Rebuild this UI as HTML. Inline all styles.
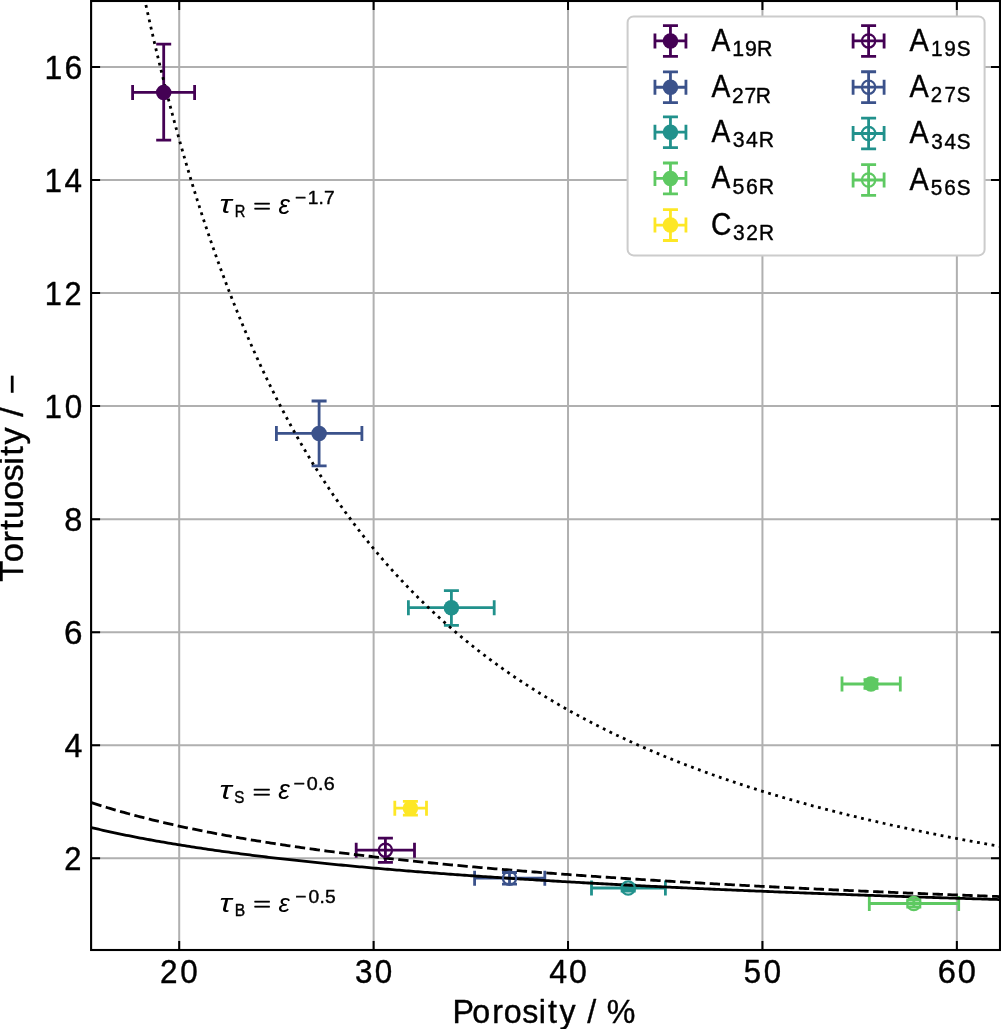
<!DOCTYPE html><html><head><meta charset="utf-8"><style>html,body{margin:0;padding:0;background:#fff;}body{width:1001px;height:1029px;overflow:hidden;position:relative;font-family:"Liberation Sans",sans-serif;}</style></head><body><div style="position:absolute;left:0;top:0;width:1001px;height:1029px;will-change:transform"><svg width="1001" height="1029" viewBox="0 0 1001 1029" style="position:absolute;left:0;top:0">
<rect width="1001" height="1029" fill="#fff"/>
<defs><clipPath id="ax"><rect x="91.1" y="1.0" width="908.9" height="949.0"/></clipPath></defs>
<path d="M179.20 1.0V950.0M373.62 1.0V950.0M568.03 1.0V950.0M762.44 1.0V950.0M956.86 1.0V950.0M91.1 858.18H1000.0M91.1 745.17H1000.0M91.1 632.15H1000.0M91.1 519.14H1000.0M91.1 406.12H1000.0M91.1 293.10H1000.0M91.1 180.09H1000.0M91.1 67.07H1000.0" stroke="#b0b0b0" stroke-width="2" fill="none"/>
<g clip-path="url(#ax)">
<path d="M132.60 92.40H194.60M163.70 44.20V140.20M132.60 84.90V99.90M194.60 84.90V99.90M156.20 44.20H171.20M156.20 140.20H171.20" stroke="#440154" stroke-width="2.8" fill="none"/>
<path d="M276.40 433.40H361.90M319.10 401.00V465.80M276.40 425.90V440.90M361.90 425.90V440.90M311.60 401.00H326.60M311.60 465.80H326.60" stroke="#3b528b" stroke-width="2.8" fill="none"/>
<path d="M408.40 607.70H494.20M451.40 590.70V625.30M408.40 600.20V615.20M494.20 600.20V615.20M443.90 590.70H458.90M443.90 625.30H458.90" stroke="#21918c" stroke-width="2.8" fill="none"/>
<path d="M842.00 684.00H900.30M871.00 679.70V688.30M842.00 676.50V691.50M900.30 676.50V691.50M863.50 679.70H878.50M863.50 688.30H878.50" stroke="#5ec962" stroke-width="2.8" fill="none"/>
<path d="M394.80 808.20H426.50M410.40 801.40V815.20M394.80 800.70V815.70M426.50 800.70V815.70M402.90 801.40H417.90M402.90 815.20H417.90" stroke="#fde725" stroke-width="2.8" fill="none"/>
<path d="M356.20 850.20H414.50M385.40 838.20V862.40M356.20 842.70V857.70M414.50 842.70V857.70M377.90 838.20H392.90M377.90 862.40H392.90" stroke="#440154" stroke-width="2.8" fill="none"/>
<path d="M474.60 878.20H544.80M509.50 872.50V884.20M474.60 870.70V885.70M544.80 870.70V885.70M502.00 872.50H517.00M502.00 884.20H517.00" stroke="#3b528b" stroke-width="2.8" fill="none"/>
<path d="M591.50 888.00H665.40M628.20 885.00V891.00M591.50 880.50V895.50M665.40 880.50V895.50M620.70 885.00H635.70M620.70 891.00H635.70" stroke="#21918c" stroke-width="2.8" fill="none"/>
<path d="M869.30 903.50H958.70M913.80 900.00V907.00M869.30 896.00V911.00M958.70 896.00V911.00M906.30 900.00H921.30M906.30 907.00H921.30" stroke="#5ec962" stroke-width="2.8" fill="none"/>
<path d="M120.88 -120.32L123.11 -108.09L125.35 -96.08L127.58 -84.28L129.82 -72.69L132.05 -61.30L134.29 -50.11L136.53 -39.11L138.76 -28.30L141.00 -17.67L143.23 -7.22L145.47 3.05L147.70 13.15L149.94 23.08L152.18 32.85L154.41 42.46L156.65 51.92L158.88 61.22L161.12 70.37L163.36 79.37L165.59 88.23L167.83 96.96L170.06 105.54L172.30 113.99L174.53 122.31L176.77 130.50L179.01 138.57L181.24 146.51L183.48 154.34L185.71 162.04L187.95 169.63L190.18 177.11L192.42 184.47L194.66 191.73L196.89 198.88L199.13 205.92L201.36 212.87L203.60 219.71L205.83 226.46L208.07 233.11L210.31 239.66L212.54 246.12L214.78 252.49L217.01 258.78L219.25 264.97L221.49 271.08L223.72 277.11L225.96 283.05L228.19 288.91L230.43 294.69L232.66 300.40L234.90 306.03L237.14 311.58L239.37 317.06L241.61 322.47L243.84 327.80L246.08 333.07L248.31 338.27L250.55 343.40L252.79 348.46L255.02 353.46L257.26 358.39L259.49 363.27L261.73 368.08L263.96 372.83L266.20 377.52L268.44 382.15L270.67 386.72L272.91 391.24L275.14 395.71L277.38 400.11L279.62 404.47L281.85 408.77L284.09 413.02L286.32 417.22L288.56 421.36L290.79 425.46L293.03 429.51L295.27 433.52L297.50 437.47L299.74 441.38L301.97 445.24L304.21 449.06L306.44 452.84L308.68 456.57L310.92 460.26L313.15 463.90L315.39 467.51L317.62 471.07L319.86 474.59L322.10 478.08L324.33 481.52L326.57 484.93L328.80 488.30L331.04 491.63L333.27 494.93L335.51 498.19L337.75 501.41L339.98 504.60L342.22 507.75L344.45 510.88L346.69 513.96L348.92 517.02L351.16 520.04L353.40 523.03L355.63 525.99L357.87 528.91L360.10 531.81L362.34 534.68L364.57 537.51L366.81 540.32L369.05 543.10L371.28 545.85L373.52 548.57L375.75 551.26L377.99 553.93L380.23 556.57L382.46 559.18L384.70 561.77L386.93 564.33L389.17 566.86L391.40 569.37L393.64 571.86L395.88 574.32L398.11 576.76L400.35 579.17L402.58 581.56L404.82 583.93L407.05 586.27L409.29 588.59L411.53 590.89L413.76 593.17L416.00 595.42L418.23 597.65L420.47 599.87L422.70 602.06L424.94 604.23L427.18 606.38L429.41 608.51L431.65 610.62L433.88 612.71L436.12 614.78L438.36 616.83L440.59 618.87L442.83 620.88L445.06 622.88L447.30 624.86L449.53 626.82L451.77 628.76L454.01 630.69L456.24 632.60L458.48 634.49L460.71 636.36L462.95 638.22L465.18 640.06L467.42 641.89L469.66 643.70L471.89 645.49L474.13 647.27L476.36 649.03L478.60 650.78L480.83 652.51L483.07 654.22L485.31 655.93L487.54 657.61L489.78 659.29L492.01 660.95L494.25 662.59L496.49 664.22L498.72 665.84L500.96 667.44L503.19 669.03L505.43 670.61L507.66 672.18L509.90 673.73L512.14 675.26L514.37 676.79L516.61 678.30L518.84 679.80L521.08 681.29L523.31 682.77L525.55 684.23L527.79 685.68L530.02 687.13L532.26 688.55L534.49 689.97L536.73 691.38L538.96 692.77L541.20 694.16L543.44 695.53L545.67 696.89L547.91 698.24L550.14 699.58L552.38 700.92L554.62 702.24L556.85 703.54L559.09 704.84L561.32 706.13L563.56 707.41L565.79 708.68L568.03 709.94L570.27 711.19L572.50 712.43L574.74 713.67L576.97 714.89L579.21 716.10L581.44 717.30L583.68 718.50L585.92 719.68L588.15 720.86L590.39 722.03L592.62 723.19L594.86 724.34L597.10 725.48L599.33 726.61L601.57 727.74L603.80 728.86L606.04 729.97L608.27 731.07L610.51 732.16L612.75 733.24L614.98 734.32L617.22 735.39L619.45 736.45L621.69 737.51L623.92 738.55L626.16 739.59L628.40 740.62L630.63 741.65L632.87 742.67L635.10 743.68L637.34 744.68L639.57 745.67L641.81 746.66L644.05 747.64L646.28 748.62L648.52 749.59L650.75 750.55L652.99 751.50L655.23 752.45L657.46 753.39L659.70 754.33L661.93 755.26L664.17 756.18L666.40 757.10L668.64 758.01L670.88 758.91L673.11 759.81L675.35 760.70L677.58 761.58L679.82 762.46L682.05 763.34L684.29 764.21L686.53 765.07L688.76 765.92L691.00 766.78L693.23 767.62L695.47 768.46L697.70 769.29L699.94 770.12L702.18 770.95L704.41 771.76L706.65 772.58L708.88 773.38L711.12 774.19L713.36 774.98L715.59 775.77L717.83 776.56L720.06 777.34L722.30 778.12L724.53 778.89L726.77 779.66L729.01 780.42L731.24 781.18L733.48 781.93L735.71 782.68L737.95 783.42L740.18 784.16L742.42 784.89L744.66 785.62L746.89 786.34L749.13 787.06L751.36 787.78L753.60 788.49L755.83 789.20L758.07 789.90L760.31 790.60L762.54 791.29L764.78 791.98L767.01 792.66L769.25 793.34L771.49 794.02L773.72 794.69L775.96 795.36L778.19 796.03L780.43 796.69L782.66 797.34L784.90 798.00L787.14 798.64L789.37 799.29L791.61 799.93L793.84 800.57L796.08 801.20L798.31 801.83L800.55 802.46L802.79 803.08L805.02 803.70L807.26 804.31L809.49 804.92L811.73 805.53L813.96 806.14L816.20 806.74L818.44 807.33L820.67 807.93L822.91 808.52L825.14 809.10L827.38 809.69L829.62 810.27L831.85 810.85L834.09 811.42L836.32 811.99L838.56 812.56L840.79 813.12L843.03 813.68L845.27 814.24L847.50 814.79L849.74 815.34L851.97 815.89L854.21 816.44L856.44 816.98L858.68 817.52L860.92 818.05L863.15 818.59L865.39 819.12L867.62 819.64L869.86 820.17L872.10 820.69L874.33 821.21L876.57 821.72L878.80 822.24L881.04 822.75L883.27 823.25L885.51 823.76L887.75 824.26L889.98 824.76L892.22 825.25L894.45 825.75L896.69 826.24L898.92 826.73L901.16 827.21L903.40 827.69L905.63 828.18L907.87 828.65L910.10 829.13L912.34 829.60L914.57 830.07L916.81 830.54L919.05 831.00L921.28 831.47L923.52 831.93L925.75 832.39L927.99 832.84L930.23 833.29L932.46 833.75L934.70 834.19L936.93 834.64L939.17 835.08L941.40 835.53L943.64 835.96L945.88 836.40L948.11 836.84L950.35 837.27L952.58 837.70L954.82 838.13L957.05 838.55L959.29 838.98L961.53 839.40L963.76 839.82L966.00 840.23L968.23 840.65L970.47 841.06L972.70 841.47L974.94 841.88L977.18 842.29L979.41 842.69L981.65 843.10L983.88 843.50L986.12 843.90L988.36 844.29L990.59 844.69L992.83 845.08L995.06 845.47L997.30 845.86L999.53 846.25L1001.77 846.63L1004.01 847.02L1006.24 847.40L1008.48 847.78L1010.71 848.15L1012.95 848.53L1015.18 848.90" stroke="#000" stroke-width="2.8" fill="none" stroke-dasharray="2.8 4.603" stroke-dashoffset="-2"/>
<path d="M81.99 799.44L84.33 800.24L86.66 801.03L88.99 801.81L91.32 802.58L93.66 803.34L95.99 804.10L98.32 804.84L100.66 805.57L102.99 806.30L105.32 807.01L107.66 807.72L109.99 808.42L112.32 809.12L114.65 809.80L116.99 810.48L119.32 811.15L121.65 811.81L123.99 812.46L126.32 813.11L128.65 813.75L130.99 814.38L133.32 815.01L135.65 815.63L137.98 816.24L140.32 816.85L142.65 817.45L144.98 818.04L147.32 818.63L149.65 819.21L151.98 819.78L154.31 820.35L156.65 820.92L158.98 821.47L161.31 822.03L163.65 822.57L165.98 823.12L168.31 823.65L170.65 824.18L172.98 824.71L175.31 825.23L177.64 825.75L179.98 826.26L182.31 826.76L184.64 827.26L186.98 827.76L189.31 828.25L191.64 828.74L193.98 829.22L196.31 829.70L198.64 830.18L200.97 830.65L203.31 831.11L205.64 831.57L207.97 832.03L210.31 832.49L212.64 832.94L214.97 833.38L217.31 833.82L219.64 834.26L221.97 834.70L224.30 835.13L226.64 835.55L228.97 835.98L231.30 836.40L233.64 836.81L235.97 837.22L238.30 837.63L240.64 838.04L242.97 838.44L245.30 838.84L247.63 839.24L249.97 839.63L252.30 840.02L254.63 840.41L256.97 840.79L259.30 841.17L261.63 841.55L263.96 841.92L266.30 842.30L268.63 842.66L270.96 843.03L273.30 843.39L275.63 843.75L277.96 844.11L280.30 844.47L282.63 844.82L284.96 845.17L287.29 845.52L289.63 845.86L291.96 846.20L294.29 846.54L296.63 846.88L298.96 847.21L301.29 847.55L303.63 847.88L305.96 848.20L308.29 848.53L310.62 848.85L312.96 849.17L315.29 849.49L317.62 849.80L319.96 850.12L322.29 850.43L324.62 850.74L326.96 851.05L329.29 851.35L331.62 851.65L333.95 851.96L336.29 852.25L338.62 852.55L340.95 852.85L343.29 853.14L345.62 853.43L347.95 853.72L350.29 854.01L352.62 854.29L354.95 854.57L357.28 854.86L359.62 855.14L361.95 855.41L364.28 855.69L366.62 855.96L368.95 856.24L371.28 856.51L373.62 856.78L375.95 857.04L378.28 857.31L380.61 857.57L382.95 857.84L385.28 858.10L387.61 858.36L389.95 858.61L392.28 858.87L394.61 859.12L396.94 859.38L399.28 859.63L401.61 859.88L403.94 860.13L406.28 860.37L408.61 860.62L410.94 860.86L413.28 861.10L415.61 861.34L417.94 861.58L420.27 861.82L422.61 862.06L424.94 862.29L427.27 862.53L429.61 862.76L431.94 862.99L434.27 863.22L436.61 863.45L438.94 863.68L441.27 863.90L443.60 864.13L445.94 864.35L448.27 864.57L450.60 864.79L452.94 865.01L455.27 865.23L457.60 865.45L459.94 865.67L462.27 865.88L464.60 866.09L466.93 866.31L469.27 866.52L471.60 866.73L473.93 866.94L476.27 867.15L478.60 867.35L480.93 867.56L483.27 867.76L485.60 867.97L487.93 868.17L490.26 868.37L492.60 868.57L494.93 868.77L497.26 868.97L499.60 869.17L501.93 869.36L504.26 869.56L506.59 869.75L508.93 869.94L511.26 870.14L513.59 870.33L515.93 870.52L518.26 870.71L520.59 870.90L522.93 871.08L525.26 871.27L527.59 871.45L529.92 871.64L532.26 871.82L534.59 872.01L536.92 872.19L539.26 872.37L541.59 872.55L543.92 872.73L546.26 872.91L548.59 873.08L550.92 873.26L553.25 873.43L555.59 873.61L557.92 873.78L560.25 873.96L562.59 874.13L564.92 874.30L567.25 874.47L569.59 874.64L571.92 874.81L574.25 874.98L576.58 875.15L578.92 875.31L581.25 875.48L583.58 875.64L585.92 875.81L588.25 875.97L590.58 876.13L592.92 876.30L595.25 876.46L597.58 876.62L599.91 876.78L602.25 876.94L604.58 877.09L606.91 877.25L609.25 877.41L611.58 877.57L613.91 877.72L616.24 877.88L618.58 878.03L620.91 878.18L623.24 878.34L625.58 878.49L627.91 878.64L630.24 878.79L632.58 878.94L634.91 879.09L637.24 879.24L639.57 879.39L641.91 879.53L644.24 879.68L646.57 879.83L648.91 879.97L651.24 880.12L653.57 880.26L655.91 880.41L658.24 880.55L660.57 880.69L662.90 880.83L665.24 880.97L667.57 881.12L669.90 881.26L672.24 881.40L674.57 881.53L676.90 881.67L679.24 881.81L681.57 881.95L683.90 882.08L686.23 882.22L688.57 882.36L690.90 882.49L693.23 882.63L695.57 882.76L697.90 882.89L700.23 883.02L702.57 883.16L704.90 883.29L707.23 883.42L709.56 883.55L711.90 883.68L714.23 883.81L716.56 883.94L718.90 884.07L721.23 884.20L723.56 884.32L725.89 884.45L728.23 884.58L730.56 884.70L732.89 884.83L735.23 884.95L737.56 885.08L739.89 885.20L742.23 885.33L744.56 885.45L746.89 885.57L749.22 885.69L751.56 885.82L753.89 885.94L756.22 886.06L758.56 886.18L760.89 886.30L763.22 886.42L765.56 886.54L767.89 886.65L770.22 886.77L772.55 886.89L774.89 887.01L777.22 887.12L779.55 887.24L781.89 887.36L784.22 887.47L786.55 887.59L788.89 887.70L791.22 887.81L793.55 887.93L795.88 888.04L798.22 888.15L800.55 888.27L802.88 888.38L805.22 888.49L807.55 888.60L809.88 888.71L812.22 888.82L814.55 888.93L816.88 889.04L819.21 889.15L821.55 889.26L823.88 889.37L826.21 889.48L828.55 889.58L830.88 889.69L833.21 889.80L835.55 889.91L837.88 890.01L840.21 890.12L842.54 890.22L844.88 890.33L847.21 890.43L849.54 890.54L851.88 890.64L854.21 890.74L856.54 890.85L858.87 890.95L861.21 891.05L863.54 891.16L865.87 891.26L868.21 891.36L870.54 891.46L872.87 891.56L875.21 891.66L877.54 891.76L879.87 891.86L882.20 891.96L884.54 892.06L886.87 892.16L889.20 892.26L891.54 892.35L893.87 892.45L896.20 892.55L898.54 892.65L900.87 892.74L903.20 892.84L905.53 892.94L907.87 893.03L910.20 893.13L912.53 893.22L914.87 893.32L917.20 893.41L919.53 893.51L921.87 893.60L924.20 893.69L926.53 893.79L928.86 893.88L931.20 893.97L933.53 894.06L935.86 894.16L938.20 894.25L940.53 894.34L942.86 894.43L945.20 894.52L947.53 894.61L949.86 894.70L952.19 894.79L954.53 894.88L956.86 894.97L959.19 895.06L961.53 895.15L963.86 895.24L966.19 895.33L968.52 895.42L970.86 895.50L973.19 895.59L975.52 895.68L977.86 895.76L980.19 895.85L982.52 895.94L984.86 896.02L987.19 896.11L989.52 896.20L991.85 896.28L994.19 896.37L996.52 896.45L998.85 896.54L1001.19 896.62L1003.52 896.70L1005.85 896.79L1008.19 896.87L1010.52 896.95L1012.85 897.04L1015.18 897.12" stroke="#000" stroke-width="2.8" fill="none" stroke-dasharray="10.36 4.517" stroke-dashoffset="4.77"/>
<path d="M81.99 825.30L84.33 825.88L86.66 826.45L88.99 827.02L91.32 827.58L93.66 828.13L95.99 828.68L98.32 829.22L100.66 829.75L102.99 830.28L105.32 830.80L107.66 831.32L109.99 831.83L112.32 832.34L114.65 832.84L116.99 833.33L119.32 833.82L121.65 834.31L123.99 834.79L126.32 835.26L128.65 835.73L130.99 836.20L133.32 836.66L135.65 837.11L137.98 837.56L140.32 838.01L142.65 838.45L144.98 838.89L147.32 839.32L149.65 839.75L151.98 840.18L154.31 840.60L156.65 841.01L158.98 841.43L161.31 841.83L163.65 842.24L165.98 842.64L168.31 843.04L170.65 843.43L172.98 843.82L175.31 844.21L177.64 844.59L179.98 844.97L182.31 845.35L184.64 845.72L186.98 846.09L189.31 846.46L191.64 846.82L193.98 847.18L196.31 847.54L198.64 847.89L200.97 848.24L203.31 848.59L205.64 848.93L207.97 849.27L210.31 849.61L212.64 849.95L214.97 850.28L217.31 850.61L219.64 850.94L221.97 851.27L224.30 851.59L226.64 851.91L228.97 852.23L231.30 852.54L233.64 852.86L235.97 853.17L238.30 853.48L240.64 853.78L242.97 854.08L245.30 854.38L247.63 854.68L249.97 854.98L252.30 855.27L254.63 855.56L256.97 855.85L259.30 856.14L261.63 856.43L263.96 856.71L266.30 856.99L268.63 857.27L270.96 857.55L273.30 857.82L275.63 858.09L277.96 858.36L280.30 858.63L282.63 858.90L284.96 859.17L287.29 859.43L289.63 859.69L291.96 859.95L294.29 860.21L296.63 860.46L298.96 860.72L301.29 860.97L303.63 861.22L305.96 861.47L308.29 861.72L310.62 861.96L312.96 862.21L315.29 862.45L317.62 862.69L319.96 862.93L322.29 863.17L324.62 863.40L326.96 863.64L329.29 863.87L331.62 864.10L333.95 864.33L336.29 864.56L338.62 864.79L340.95 865.01L343.29 865.24L345.62 865.46L347.95 865.68L350.29 865.90L352.62 866.12L354.95 866.34L357.28 866.56L359.62 866.77L361.95 866.98L364.28 867.20L366.62 867.41L368.95 867.62L371.28 867.82L373.62 868.03L375.95 868.24L378.28 868.44L380.61 868.64L382.95 868.85L385.28 869.05L387.61 869.25L389.95 869.45L392.28 869.64L394.61 869.84L396.94 870.03L399.28 870.23L401.61 870.42L403.94 870.61L406.28 870.80L408.61 870.99L410.94 871.18L413.28 871.37L415.61 871.56L417.94 871.74L420.27 871.93L422.61 872.11L424.94 872.29L427.27 872.47L429.61 872.65L431.94 872.83L434.27 873.01L436.61 873.19L438.94 873.36L441.27 873.54L443.60 873.71L445.94 873.89L448.27 874.06L450.60 874.23L452.94 874.40L455.27 874.57L457.60 874.74L459.94 874.91L462.27 875.08L464.60 875.24L466.93 875.41L469.27 875.57L471.60 875.74L473.93 875.90L476.27 876.06L478.60 876.23L480.93 876.39L483.27 876.55L485.60 876.70L487.93 876.86L490.26 877.02L492.60 877.18L494.93 877.33L497.26 877.49L499.60 877.64L501.93 877.80L504.26 877.95L506.59 878.10L508.93 878.25L511.26 878.40L513.59 878.55L515.93 878.70L518.26 878.85L520.59 879.00L522.93 879.14L525.26 879.29L527.59 879.44L529.92 879.58L532.26 879.72L534.59 879.87L536.92 880.01L539.26 880.15L541.59 880.29L543.92 880.44L546.26 880.58L548.59 880.71L550.92 880.85L553.25 880.99L555.59 881.13L557.92 881.27L560.25 881.40L562.59 881.54L564.92 881.67L567.25 881.81L569.59 881.94L571.92 882.08L574.25 882.21L576.58 882.34L578.92 882.47L581.25 882.60L583.58 882.73L585.92 882.86L588.25 882.99L590.58 883.12L592.92 883.25L595.25 883.38L597.58 883.50L599.91 883.63L602.25 883.76L604.58 883.88L606.91 884.01L609.25 884.13L611.58 884.25L613.91 884.38L616.24 884.50L618.58 884.62L620.91 884.74L623.24 884.87L625.58 884.99L627.91 885.11L630.24 885.23L632.58 885.34L634.91 885.46L637.24 885.58L639.57 885.70L641.91 885.82L644.24 885.93L646.57 886.05L648.91 886.17L651.24 886.28L653.57 886.40L655.91 886.51L658.24 886.62L660.57 886.74L662.90 886.85L665.24 886.96L667.57 887.07L669.90 887.19L672.24 887.30L674.57 887.41L676.90 887.52L679.24 887.63L681.57 887.74L683.90 887.85L686.23 887.96L688.57 888.06L690.90 888.17L693.23 888.28L695.57 888.39L697.90 888.49L700.23 888.60L702.57 888.70L704.90 888.81L707.23 888.91L709.56 889.02L711.90 889.12L714.23 889.23L716.56 889.33L718.90 889.43L721.23 889.54L723.56 889.64L725.89 889.74L728.23 889.84L730.56 889.94L732.89 890.04L735.23 890.14L737.56 890.24L739.89 890.34L742.23 890.44L744.56 890.54L746.89 890.64L749.22 890.74L751.56 890.83L753.89 890.93L756.22 891.03L758.56 891.13L760.89 891.22L763.22 891.32L765.56 891.41L767.89 891.51L770.22 891.60L772.55 891.70L774.89 891.79L777.22 891.89L779.55 891.98L781.89 892.07L784.22 892.17L786.55 892.26L788.89 892.35L791.22 892.44L793.55 892.53L795.88 892.63L798.22 892.72L800.55 892.81L802.88 892.90L805.22 892.99L807.55 893.08L809.88 893.17L812.22 893.26L814.55 893.34L816.88 893.43L819.21 893.52L821.55 893.61L823.88 893.70L826.21 893.78L828.55 893.87L830.88 893.96L833.21 894.04L835.55 894.13L837.88 894.22L840.21 894.30L842.54 894.39L844.88 894.47L847.21 894.56L849.54 894.64L851.88 894.73L854.21 894.81L856.54 894.89L858.87 894.98L861.21 895.06L863.54 895.14L865.87 895.23L868.21 895.31L870.54 895.39L872.87 895.47L875.21 895.55L877.54 895.63L879.87 895.71L882.20 895.80L884.54 895.88L886.87 895.96L889.20 896.04L891.54 896.12L893.87 896.20L896.20 896.27L898.54 896.35L900.87 896.43L903.20 896.51L905.53 896.59L907.87 896.67L910.20 896.74L912.53 896.82L914.87 896.90L917.20 896.98L919.53 897.05L921.87 897.13L924.20 897.21L926.53 897.28L928.86 897.36L931.20 897.43L933.53 897.51L935.86 897.58L938.20 897.66L940.53 897.73L942.86 897.81L945.20 897.88L947.53 897.95L949.86 898.03L952.19 898.10L954.53 898.18L956.86 898.25L959.19 898.32L961.53 898.39L963.86 898.47L966.19 898.54L968.52 898.61L970.86 898.68L973.19 898.75L975.52 898.83L977.86 898.90L980.19 898.97L982.52 899.04L984.86 899.11L987.19 899.18L989.52 899.25L991.85 899.32L994.19 899.39L996.52 899.46L998.85 899.53L1001.19 899.60L1003.52 899.67L1005.85 899.73L1008.19 899.80L1010.52 899.87L1012.85 899.94L1015.18 900.01" stroke="#000" stroke-width="2.8" fill="none"/>
<circle cx="163.70" cy="92.40" r="7.75" fill="#440154"/>
<circle cx="319.10" cy="433.40" r="7.75" fill="#3b528b"/>
<circle cx="451.40" cy="607.70" r="7.75" fill="#21918c"/>
<circle cx="871.00" cy="684.00" r="7.75" fill="#5ec962"/>
<circle cx="410.40" cy="808.20" r="7.75" fill="#fde725"/>
<circle cx="385.40" cy="850.20" r="6.65" fill="none" stroke="#440154" stroke-width="2.2"/>
<circle cx="509.50" cy="878.20" r="6.65" fill="none" stroke="#3b528b" stroke-width="2.2"/>
<circle cx="628.20" cy="888.00" r="6.65" fill="none" stroke="#21918c" stroke-width="2.2"/>
<circle cx="913.80" cy="903.50" r="6.65" fill="none" stroke="#5ec962" stroke-width="2.2"/>
</g>
<path d="M179.20 950.0V941.0M179.20 1.0V10.0M373.62 950.0V941.0M373.62 1.0V10.0M568.03 950.0V941.0M568.03 1.0V10.0M762.44 950.0V941.0M762.44 1.0V10.0M956.86 950.0V941.0M956.86 1.0V10.0M91.1 858.18H100.1M1000.0 858.18H991.0M91.1 745.17H100.1M1000.0 745.17H991.0M91.1 632.15H100.1M1000.0 632.15H991.0M91.1 519.14H100.1M1000.0 519.14H991.0M91.1 406.12H100.1M1000.0 406.12H991.0M91.1 293.10H100.1M1000.0 293.10H991.0M91.1 180.09H100.1M1000.0 180.09H991.0M91.1 67.07H100.1M1000.0 67.07H991.0" stroke="#000" stroke-width="2" fill="none"/>
<rect x="91.1" y="1.0" width="908.9" height="949.0" stroke="#000" stroke-width="2.1" fill="none" stroke-linejoin="miter"/>
<g font-family="Liberation Sans, sans-serif" style="font-kerning:none;font-variant-ligatures:none">
<text transform="translate(0,870.03) scale(0.30874,0.32532)" x="208.44" y="0" font-size="100.0" fill="#000" stroke="#000" stroke-width="1.262" stroke-linejoin="round">2</text>
<text transform="translate(0,757.02) scale(0.32152,0.32532)" x="200.32" y="0" font-size="100.0" fill="#000" stroke="#000" stroke-width="1.237" stroke-linejoin="round">4</text>
<text transform="translate(0,644.00) scale(0.33227,0.32532)" x="192.95" y="0" font-size="100.0" fill="#000" stroke="#000" stroke-width="1.217" stroke-linejoin="round">6</text>
<text transform="translate(0,530.99) scale(0.32446,0.32532)" x="198.26" y="0" font-size="100.0" fill="#000" stroke="#000" stroke-width="1.231" stroke-linejoin="round">8</text>
<text transform="translate(0,417.97) scale(0.31360,0.32532)" x="142.22 206.09" y="0" font-size="100.0" fill="#000" stroke="#000" stroke-width="1.252" stroke-linejoin="round">10</text>
<text transform="translate(0,304.95) scale(0.30709,0.32532)" x="145.86 209.71" y="0" font-size="100.0" fill="#000" stroke="#000" stroke-width="1.266" stroke-linejoin="round">12</text>
<text transform="translate(0,191.94) scale(0.31406,0.32532)" x="141.97 205.73" y="0" font-size="100.0" fill="#000" stroke="#000" stroke-width="1.251" stroke-linejoin="round">14</text>
<text transform="translate(0,78.92) scale(0.31926,0.32532)" x="139.19 201.96" y="0" font-size="100.0" fill="#000" stroke="#000" stroke-width="1.241" stroke-linejoin="round">16</text>
<text transform="translate(0,983.00) scale(0.31504,0.32532)" x="508.11 572.53" y="0" font-size="100.0" fill="#000" stroke="#000" stroke-width="1.249" stroke-linejoin="round">20</text>
<text transform="translate(0,983.00) scale(0.31451,0.32532)" x="1128.59 1191.69" y="0" font-size="100.0" fill="#000" stroke="#000" stroke-width="1.251" stroke-linejoin="round">30</text>
<text transform="translate(0,983.00) scale(0.32129,0.32532)" x="1709.17 1771.07" y="0" font-size="100.0" fill="#000" stroke="#000" stroke-width="1.237" stroke-linejoin="round">40</text>
<text transform="translate(0,983.00) scale(0.31179,0.32532)" x="2385.27 2449.43" y="0" font-size="100.0" fill="#000" stroke="#000" stroke-width="1.256" stroke-linejoin="round">50</text>
<text transform="translate(0,983.00) scale(0.32656,0.32532)" x="2871.85 2932.72" y="0" font-size="100.0" fill="#000" stroke="#000" stroke-width="1.227" stroke-linejoin="round">60</text>
<text transform="translate(0,1022.60) scale(0.32225,0.32532)" x="1403.87 1465.67 1527.32 1563.04 1620.41 1671.70 1700.50 1736.44 1736.44 1822.03 1822.03 1882.98" y="0" font-size="100.0" fill="#000" stroke="#000" stroke-width="1.235" stroke-linejoin="round">Porosity / %</text>
<text transform="rotate(-90) translate(0,23.00) scale(0.34406,0.32532)" x="-1691.15 -1634.34 -1576.43 -1539.94 -1508.40 -1453.10 -1399.56 -1350.94 -1324.40 -1291.76 -1291.76 -1211.43 -1211.43 -1146.68" y="0" font-size="100.0" fill="#000" stroke="#000" stroke-width="1.196" stroke-linejoin="round">Tortuosity / −</text>
<text transform="translate(219.45,213.10) scale(0.32675,0.25089)" font-size="100.0" font-style="italic" fill="#000">τ</text><text transform="translate(234.85,217.15) scale(0.14653,0.16715)" font-size="100.0" fill="#000" stroke="#000" stroke-width="2.556" stroke-linejoin="round">R</text><text transform="translate(253.24,211.88) scale(0.30360,0.19084)" font-size="100.0" fill="#000" stroke="#000" stroke-width="2.285" stroke-linejoin="round">=</text><text transform="translate(278.52,213.58) scale(0.26003,0.27221)" font-size="100.0" font-style="italic" fill="#000">ε</text><text transform="translate(0,203.60) scale(0.19188,0.18733)" x="1537.65 1603.56 1660.14 1688.20" y="0" font-size="100.0" fill="#000" stroke="#000" stroke-width="2.110" stroke-linejoin="round">−1.7</text>
<text transform="translate(219.45,798.50) scale(0.32675,0.25089)" font-size="100.0" font-style="italic" fill="#000">τ</text><text transform="translate(234.16,802.79) scale(0.15112,0.16808)" font-size="100.0" fill="#000" stroke="#000" stroke-width="2.510" stroke-linejoin="round">S</text><text transform="translate(252.38,797.68) scale(0.31595,0.19084)" font-size="100.0" fill="#000" stroke="#000" stroke-width="2.240" stroke-linejoin="round">=</text><text transform="translate(278.21,799.29) scale(0.26233,0.26856)" font-size="100.0" font-style="italic" fill="#000">ε</text><text transform="translate(0,789.60) scale(0.19763,0.18733)" x="1485.11 1552.37 1608.89 1637.61" y="0" font-size="100.0" fill="#000" stroke="#000" stroke-width="2.079" stroke-linejoin="round">−0.6</text>
<text transform="translate(219.45,911.50) scale(0.32675,0.25089)" font-size="100.0" font-style="italic" fill="#000">τ</text><text transform="translate(234.77,915.95) scale(0.15595,0.17297)" font-size="100.0" fill="#000" stroke="#000" stroke-width="2.435" stroke-linejoin="round">B</text><text transform="translate(253.24,910.07) scale(0.30360,0.17842)" font-size="100.0" fill="#000" stroke="#000" stroke-width="2.363" stroke-linejoin="round">=</text><text transform="translate(278.53,911.89) scale(0.25542,0.26125)" font-size="100.0" font-style="italic" fill="#000">ε</text><text transform="translate(0,902.50) scale(0.19222,0.18733)" x="1535.86 1604.51 1661.93 1691.22" y="0" font-size="100.0" fill="#000" stroke="#000" stroke-width="2.108" stroke-linejoin="round">−0.5</text>
</g>
<rect x="627.6" y="16.4" width="357.0" height="239.0" rx="6" ry="6" fill="#fff" stroke="#cccccc" stroke-width="2"/>
<g font-family="Liberation Sans, sans-serif" style="font-kerning:none;font-variant-ligatures:none">
<path d="M654.95 40.95H685.95M670.45 25.55V56.35M654.95 33.45V48.45M685.95 33.45V48.45M662.95 25.55H677.95M662.95 56.35H677.95" stroke="#440154" stroke-width="2.8" fill="none"/><circle cx="670.45" cy="40.95" r="7.75" fill="#440154"/>
<text transform="translate(711.59,50.55) scale(0.28201,0.31251)" font-size="100.0" fill="#000" stroke="#000" stroke-width="1.347" stroke-linejoin="round">A</text>
<text transform="translate(0,56.20) scale(0.21334,0.22598)" x="3432.87 3492.62 3548.37" y="0" font-size="100.0" fill="#000" stroke="#000" stroke-width="1.822" stroke-linejoin="round">19R</text>
<path d="M654.95 87.25H685.95M670.45 71.85V102.65M654.95 79.75V94.75M685.95 79.75V94.75M662.95 71.85H677.95M662.95 102.65H677.95" stroke="#3b528b" stroke-width="2.8" fill="none"/><circle cx="670.45" cy="87.25" r="7.75" fill="#3b528b"/>
<text transform="translate(711.59,96.75) scale(0.28201,0.30669)" font-size="100.0" fill="#000" stroke="#000" stroke-width="1.360" stroke-linejoin="round">A</text>
<text transform="translate(0,102.50) scale(0.21013,0.22598)" x="3483.76 3542.90 3596.98" y="0" font-size="100.0" fill="#000" stroke="#000" stroke-width="1.836" stroke-linejoin="round">27R</text>
<path d="M654.95 132.20H685.95M670.45 116.80V147.60M654.95 124.70V139.70M685.95 124.70V139.70M662.95 116.80H677.95M662.95 147.60H677.95" stroke="#21918c" stroke-width="2.8" fill="none"/><circle cx="670.45" cy="132.20" r="7.75" fill="#21918c"/>
<text transform="translate(711.59,141.75) scale(0.28201,0.30669)" font-size="100.0" fill="#000" stroke="#000" stroke-width="1.360" stroke-linejoin="round">A</text>
<text transform="translate(0,147.45) scale(0.21213,0.22598)" x="3453.89 3517.20 3577.00" y="0" font-size="100.0" fill="#000" stroke="#000" stroke-width="1.827" stroke-linejoin="round">34R</text>
<path d="M654.95 178.40H685.95M670.45 163.00V193.80M654.95 170.90V185.90M685.95 170.90V185.90M662.95 163.00H677.95M662.95 193.80H677.95" stroke="#5ec962" stroke-width="2.8" fill="none"/><circle cx="670.45" cy="178.40" r="7.75" fill="#5ec962"/>
<text transform="translate(711.59,187.75) scale(0.28201,0.30669)" font-size="100.0" fill="#000" stroke="#000" stroke-width="1.360" stroke-linejoin="round">A</text>
<text transform="translate(0,193.65) scale(0.21286,0.22598)" x="3441.45 3505.13 3564.68" y="0" font-size="100.0" fill="#000" stroke="#000" stroke-width="1.824" stroke-linejoin="round">56R</text>
<path d="M654.95 225.10H685.95M670.45 209.70V240.50M654.95 217.60V232.60M685.95 217.60V232.60M662.95 209.70H677.95M662.95 240.50H677.95" stroke="#fde725" stroke-width="2.8" fill="none"/><circle cx="670.45" cy="225.10" r="7.75" fill="#fde725"/>
<text transform="translate(711.01,235.25) scale(0.28265,0.30932)" font-size="100.0" fill="#000" stroke="#000" stroke-width="1.353" stroke-linejoin="round">C</text>
<text transform="translate(0,240.35) scale(0.20905,0.22598)" x="3506.93 3569.22 3630.63" y="0" font-size="100.0" fill="#000" stroke="#000" stroke-width="1.840" stroke-linejoin="round">32R</text>
<path d="M853.10 40.95H884.10M868.60 25.55V56.35M853.10 33.45V48.45M884.10 33.45V48.45M861.10 25.55H876.10M861.10 56.35H876.10" stroke="#440154" stroke-width="2.8" fill="none"/><circle cx="868.60" cy="40.95" r="6.65" fill="none" stroke="#440154" stroke-width="2.2"/>
<text transform="translate(909.39,50.55) scale(0.28805,0.31251)" font-size="100.0" fill="#000" stroke="#000" stroke-width="1.333" stroke-linejoin="round">A</text>
<text transform="translate(0,56.20) scale(0.20782,0.22598)" x="4479.67 4544.13 4603.74" y="0" font-size="100.0" fill="#000" stroke="#000" stroke-width="1.846" stroke-linejoin="round">19S</text>
<path d="M853.10 87.15H884.10M868.60 71.75V102.55M853.10 79.65V94.65M884.10 79.65V94.65M861.10 71.75H876.10M861.10 102.55H876.10" stroke="#3b528b" stroke-width="2.8" fill="none"/><circle cx="868.60" cy="87.15" r="6.65" fill="none" stroke="#3b528b" stroke-width="2.2"/>
<text transform="translate(909.39,96.75) scale(0.28805,0.30669)" font-size="100.0" fill="#000" stroke="#000" stroke-width="1.346" stroke-linejoin="round">A</text>
<text transform="translate(0,102.40) scale(0.20464,0.22598)" x="4548.71 4615.26 4675.80" y="0" font-size="100.0" fill="#000" stroke="#000" stroke-width="1.860" stroke-linejoin="round">27S</text>
<path d="M853.10 133.50H884.10M868.60 118.10V148.90M853.10 126.00V141.00M884.10 126.00V141.00M861.10 118.10H876.10M861.10 148.90H876.10" stroke="#21918c" stroke-width="2.8" fill="none"/><circle cx="868.60" cy="133.50" r="6.65" fill="none" stroke="#21918c" stroke-width="2.2"/>
<text transform="translate(909.39,142.95) scale(0.28805,0.30669)" font-size="100.0" fill="#000" stroke="#000" stroke-width="1.346" stroke-linejoin="round">A</text>
<text transform="translate(0,148.75) scale(0.20690,0.22598)" x="4501.45 4565.39 4624.45" y="0" font-size="100.0" fill="#000" stroke="#000" stroke-width="1.850" stroke-linejoin="round">34S</text>
<path d="M853.10 180.00H884.10M868.60 164.60V195.40M853.10 172.50V187.50M884.10 172.50V187.50M861.10 164.60H876.10M861.10 195.40H876.10" stroke="#5ec962" stroke-width="2.8" fill="none"/><circle cx="868.60" cy="180.00" r="6.65" fill="none" stroke="#5ec962" stroke-width="2.2"/>
<text transform="translate(909.39,189.75) scale(0.28805,0.30669)" font-size="100.0" fill="#000" stroke="#000" stroke-width="1.346" stroke-linejoin="round">A</text>
<text transform="translate(0,195.25) scale(0.20749,0.22598)" x="4486.40 4551.46 4611.01" y="0" font-size="100.0" fill="#000" stroke="#000" stroke-width="1.847" stroke-linejoin="round">56S</text>
</g>
</svg></div></body></html>
